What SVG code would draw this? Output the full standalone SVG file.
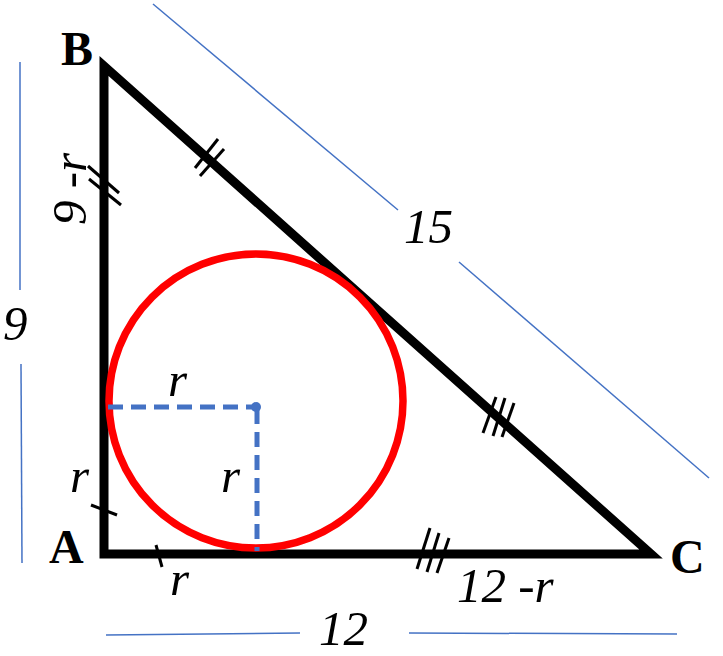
<svg xmlns="http://www.w3.org/2000/svg" width="723" height="656" viewBox="0 0 723 656">
<style>
.lbl{font-family:"Liberation Serif","Times New Roman","DejaVu Serif",serif;font-size:49px;font-style:italic;fill:#000}
.vtx{font-family:"Liberation Serif","Times New Roman",serif;font-size:48px;font-weight:bold;fill:#000}
.dim{stroke:#4472C4;stroke-width:1.5;fill:none}
.tick{stroke:#000;stroke-width:3;fill:none}
.dash{stroke:#4472C4;stroke-width:5;stroke-dasharray:15 8;fill:none}
</style>
<rect width="723" height="656" fill="#fff"/>
<g id="dimensions">
<line class="dim" x1="20" y1="62" x2="20" y2="290"/>
<line class="dim" x1="21" y1="364" x2="22" y2="563"/>
<line class="dim" x1="153" y1="4" x2="398" y2="210"/>
<line class="dim" x1="459" y1="262" x2="709" y2="478"/>
<line class="dim" x1="106" y1="635" x2="300" y2="633"/>
<line class="dim" x1="409" y1="633" x2="677" y2="634"/>
</g>
<g id="triangle">
<polygon points="104,66 104,554 651,554" fill="none" stroke="#000" stroke-width="9" stroke-linejoin="miter" stroke-miterlimit="10"/>
</g>
<g id="incircle">
<circle cx="256" cy="401" r="147" fill="none" stroke="#ff0000" stroke-width="7.5"/>
</g>
<g id="radii">
<line class="dash" x1="108" y1="407" x2="256" y2="407"/>
<line class="dash" x1="257" y1="409" x2="257" y2="551"/>
<circle cx="256" cy="407" r="5" fill="#4472C4"/>
</g>
<g id="ticks">
<line class="tick" x1="88" y1="166" x2="119" y2="193"/>
<line class="tick" x1="89" y1="179" x2="121" y2="205"/>
<line class="tick" x1="195" y1="168" x2="218" y2="139"/>
<line class="tick" x1="200" y1="176" x2="224" y2="149"/>
<line class="tick" x1="483" y1="433" x2="496" y2="397"/>
<line class="tick" x1="493" y1="436" x2="505" y2="398"/>
<line class="tick" x1="502" y1="437" x2="514" y2="403"/>
<line class="tick" x1="417" y1="569" x2="430" y2="528"/>
<line class="tick" x1="427" y1="572" x2="439" y2="533"/>
<line class="tick" x1="437" y1="573" x2="449" y2="538"/>
<line class="tick" x1="91" y1="505" x2="117" y2="515"/>
<line class="tick" x1="156" y1="545" x2="162" y2="567"/>
</g>
<g id="labels">
<text class="vtx" x="61" y="65">B</text>
<text class="vtx" x="49" y="563">A</text>
<text class="vtx" x="670" y="573">C</text>
<text class="lbl" x="3" y="340">9</text>
<text class="lbl" x="404" y="243">15</text>
<text class="lbl" x="319" y="645">12</text>
<text class="lbl" x="457" y="602">12 -r</text>
<text class="lbl" transform="translate(86,225) rotate(-90)">9 -r</text>
<text class="lbl" x="168" y="396">r</text>
<text class="lbl" x="70" y="492">r</text>
<text class="lbl" x="221" y="492">r</text>
<text class="lbl" x="170" y="595">r</text>
</g>
</svg>
